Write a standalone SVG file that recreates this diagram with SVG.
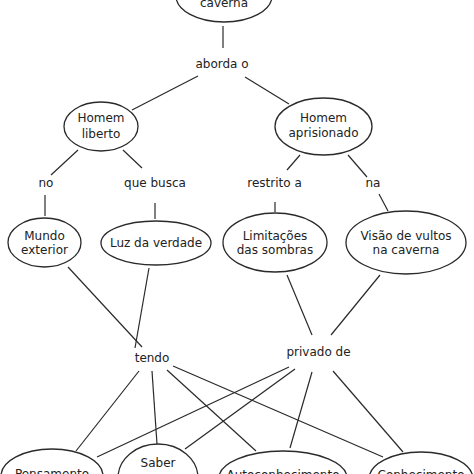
<svg xmlns="http://www.w3.org/2000/svg" width="474" height="474" viewBox="0 0 474 474">
<style>
.n{fill:#fff;stroke:#2a2a2a;stroke-width:1.3}
.c line{stroke:#2a2a2a;stroke-width:1.2}
text{font-family:"DejaVu Sans","Liberation Sans",sans-serif;font-size:12px;fill:#222;text-anchor:middle}
</style>
<rect width="474" height="474" fill="#fff"/>
<g class="c" id="connectors">
<line x1="223" y1="26" x2="223" y2="48"/>
<line x1="198" y1="76" x2="132" y2="110"/>
<line x1="245" y1="77" x2="289" y2="104"/>
<line x1="78" y1="150" x2="51" y2="175"/>
<line x1="123" y1="150" x2="142" y2="168"/>
<line x1="300" y1="155" x2="287" y2="170"/>
<line x1="348" y1="155" x2="367" y2="177"/>
<line x1="45" y1="195" x2="45" y2="216"/>
<line x1="155" y1="203" x2="155" y2="219"/>
<line x1="275" y1="202" x2="275" y2="212"/>
<line x1="379" y1="194" x2="388" y2="211"/>
<line x1="68" y1="267" x2="142" y2="347"/>
<line x1="149" y1="268" x2="135" y2="348"/>
<line x1="287" y1="275" x2="312" y2="335"/>
<line x1="380" y1="275" x2="331" y2="335"/>
<line x1="139" y1="371" x2="76" y2="451"/>
<line x1="152" y1="371" x2="157" y2="444"/>
<line x1="167" y1="370" x2="256" y2="451"/>
<line x1="173" y1="366" x2="383" y2="457"/>
<line x1="289" y1="367" x2="97" y2="457"/>
<line x1="295" y1="369" x2="185" y2="449"/>
<line x1="312" y1="372" x2="290" y2="448"/>
<line x1="333" y1="371" x2="403" y2="452"/>
</g>
<g id="caverna"><ellipse class="n" cx="224" cy="-4" rx="48" ry="26"/><text x="224" y="7">caverna</text></g>
<g id="aborda"><text x="222" y="68">aborda o</text></g>
<g id="liberto"><ellipse class="n" cx="101" cy="126.5" rx="37" ry="24.5"/><text x="101" y="122">Homem</text><text x="101" y="138">liberto</text></g>
<g id="aprisionado"><ellipse class="n" cx="323.5" cy="126.5" rx="48.5" ry="28.5"/><text x="323.5" y="122">Homem</text><text x="323.5" y="137">aprisionado</text></g>
<g id="no"><text x="46" y="187">no</text></g>
<g id="quebusca"><text x="155" y="187">que busca</text></g>
<g id="restrito"><text x="274.5" y="187">restrito a</text></g>
<g id="na"><text x="373" y="187">na</text></g>
<g id="mundo"><ellipse class="n" cx="44.5" cy="242.5" rx="36.5" ry="24.5"/><text x="44.5" y="240">Mundo</text><text x="44.5" y="254">exterior</text></g>
<g id="luz"><ellipse class="n" cx="156" cy="243" rx="55" ry="22"/><text x="156" y="247">Luz da verdade</text></g>
<g id="limitacoes"><ellipse class="n" cx="275" cy="242.5" rx="52" ry="29.5"/><text x="275" y="240">Limitações</text><text x="275" y="254">das sombras</text></g>
<g id="visao"><ellipse class="n" cx="406" cy="242.5" rx="60" ry="31.5"/><text x="406" y="240">Visão de vultos</text><text x="406" y="254">na caverna</text></g>
<g id="tendo"><text x="152" y="362">tendo</text></g>
<g id="privado"><text x="318.5" y="356">privado de</text></g>
<g id="pensamento"><ellipse class="n" cx="52" cy="476" rx="51" ry="27"/><text x="52" y="478">Pensamento</text></g>
<g id="saber"><ellipse class="n" cx="158" cy="478" rx="40" ry="34"/><text x="158" y="467">Saber</text></g>
<g id="autoconhecimento"><ellipse class="n" cx="283" cy="478" rx="64" ry="27"/><text x="283" y="479">Autoconhecimento</text></g>
<g id="conhecimento"><ellipse class="n" cx="421" cy="479" rx="52" ry="27"/><text x="421" y="479">Conhecimento</text></g>
</svg>
